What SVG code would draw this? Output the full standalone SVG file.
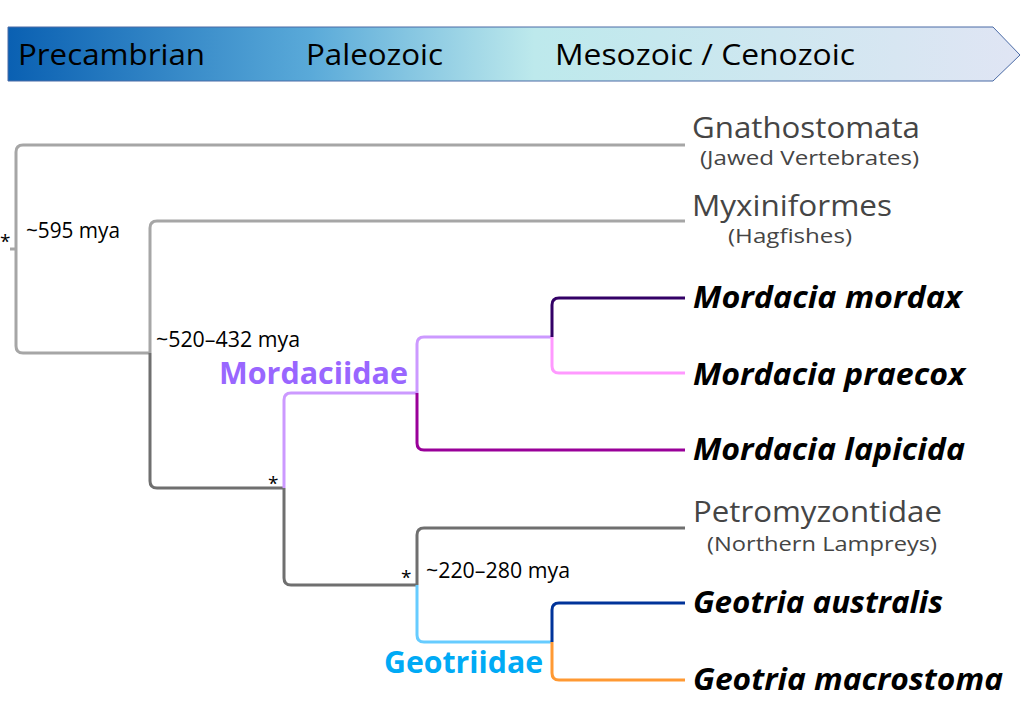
<svg xmlns="http://www.w3.org/2000/svg" width="1024" height="718" viewBox="0 0 1024 718">
<defs>
<linearGradient id="band" x1="0" y1="0" x2="1" y2="0">
<stop offset="0" stop-color="#0a60b2"/>
<stop offset="0.3" stop-color="#5aaad9"/>
<stop offset="0.52" stop-color="#bde9ec"/>
<stop offset="1" stop-color="#e0e5f4"/>
</linearGradient>
<style>
.b{fill:none;stroke-width:3;stroke-linecap:butt;stroke-linejoin:round}
.lg{stroke:#a6a6a6}.dg{stroke:#6f6f6f}.lp{stroke:#cc99ff}.mg{stroke:#990099}
.ind{stroke:#330066}.pk{stroke:#ff99ff}.lb{stroke:#66ccff}.db{stroke:#003399}.or{stroke:#ff9933}
text{font-family:"Open Sans","Liberation Sans",sans-serif}
.band{font-size:30px;fill:#000}
.grp{font-size:29px;fill:#454545}
.sub{font-size:20px;fill:#454545}
.sp{font-size:30px;font-weight:bold;font-style:italic;fill:#000}
.age{font-size:21px;fill:#000}
.ast{font-size:19px;fill:#000}
.fam{font-size:30px;font-weight:bold}
</style>
</defs>
<g id="timeline">
<polygon points="8,27 993,27 1020,55 993,81 8,81" fill="url(#band)" stroke="#4a6aa5" stroke-width="1"/>
<text class="band" x="18" y="65" textLength="187" lengthAdjust="spacingAndGlyphs">Precambrian</text>
<text class="band" x="306" y="65" textLength="137" lengthAdjust="spacingAndGlyphs">Paleozoic</text>
<text class="band" x="555" y="65" textLength="300" lengthAdjust="spacingAndGlyphs">Mesozoic / Cenozoic</text>
</g>
<g id="connectors">
<path class="b lg" d="M10 249 H16"/>
<path class="b lg" d="M685 145 H23 Q16 145 16 152 V346 Q16 353 23 353 H150"/>
<path class="b lg" d="M685 221 H157 Q150 221 150 228 V353"/>
<path class="b dg" d="M150 353 V481 Q150 488 157 488 H284"/>
<path class="b lp" d="M284 488 V400 Q284 393 291 393 H417"/>
<path class="b dg" d="M284 488 V578 Q284 585 291 585 H417"/>
<path class="b lp" d="M417 393 V344 Q417 337 424 337 H552"/>
<path class="b mg" d="M417 393 V443 Q417 450 424 450 H685"/>
<path class="b ind" d="M552 337 V305 Q552 298 559 298 H685"/>
<path class="b pk" d="M552 337 V366 Q552 373 559 373 H685"/>
<path class="b dg" d="M417 585 V535 Q417 528 424 528 H685"/>
<path class="b lb" d="M417 585 V635 Q417 642 424 642 H552"/>
<path class="b db" d="M552 642 V610 Q552 603 559 603 H685"/>
<path class="b or" d="M552 642 V673 Q552 680 559 680 H685"/>
</g>
<g id="annotations">
<text class="ast" x="0" y="248">*</text>
<text class="age" x="26" y="238" textLength="94" lengthAdjust="spacingAndGlyphs">~595 mya</text>
<text class="age" x="156" y="347" textLength="144" lengthAdjust="spacingAndGlyphs">~520–432 mya</text>
<text class="ast" x="268" y="490">*</text>
<text class="ast" x="401" y="584">*</text>
<text class="age" x="426" y="578" textLength="144" lengthAdjust="spacingAndGlyphs">~220–280 mya</text>
</g>
<g id="node-gnathostomata">
<text class="grp" x="692" y="138" textLength="228" lengthAdjust="spacingAndGlyphs">Gnathostomata</text>
<text class="sub" x="700" y="165" textLength="219" lengthAdjust="spacingAndGlyphs">(Jawed Vertebrates)</text>
</g>
<g id="node-myxiniformes">
<text class="grp" x="692" y="216" textLength="200" lengthAdjust="spacingAndGlyphs">Myxiniformes</text>
<text class="sub" x="728" y="243" textLength="124" lengthAdjust="spacingAndGlyphs">(Hagfishes)</text>
</g>
<g id="node-mordaciidae">
<text class="fam" x="219" y="384" fill="#9966ff" textLength="189" lengthAdjust="spacingAndGlyphs">Mordaciidae</text>
</g>
<g id="node-mordax">
<text class="sp" x="693" y="308" textLength="269" lengthAdjust="spacingAndGlyphs">Mordacia mordax</text>
</g>
<g id="node-praecox">
<text class="sp" x="693" y="385" textLength="272" lengthAdjust="spacingAndGlyphs">Mordacia praecox</text>
</g>
<g id="node-lapicida">
<text class="sp" x="693" y="460" textLength="272" lengthAdjust="spacingAndGlyphs">Mordacia lapicida</text>
</g>
<g id="node-petromyzontidae">
<text class="grp" x="693" y="522" textLength="249" lengthAdjust="spacingAndGlyphs">Petromyzontidae</text>
<text class="sub" x="707" y="551" textLength="230" lengthAdjust="spacingAndGlyphs">(Northern Lampreys)</text>
</g>
<g id="node-geotriidae">
<text class="fam" x="384" y="673" fill="#00aaf5" textLength="159" lengthAdjust="spacingAndGlyphs">Geotriidae</text>
</g>
<g id="node-australis">
<text class="sp" x="693" y="613" textLength="250" lengthAdjust="spacingAndGlyphs">Geotria australis</text>
</g>
<g id="node-macrostoma">
<text class="sp" x="693" y="690" textLength="310" lengthAdjust="spacingAndGlyphs">Geotria macrostoma</text>
</g>
</svg>
